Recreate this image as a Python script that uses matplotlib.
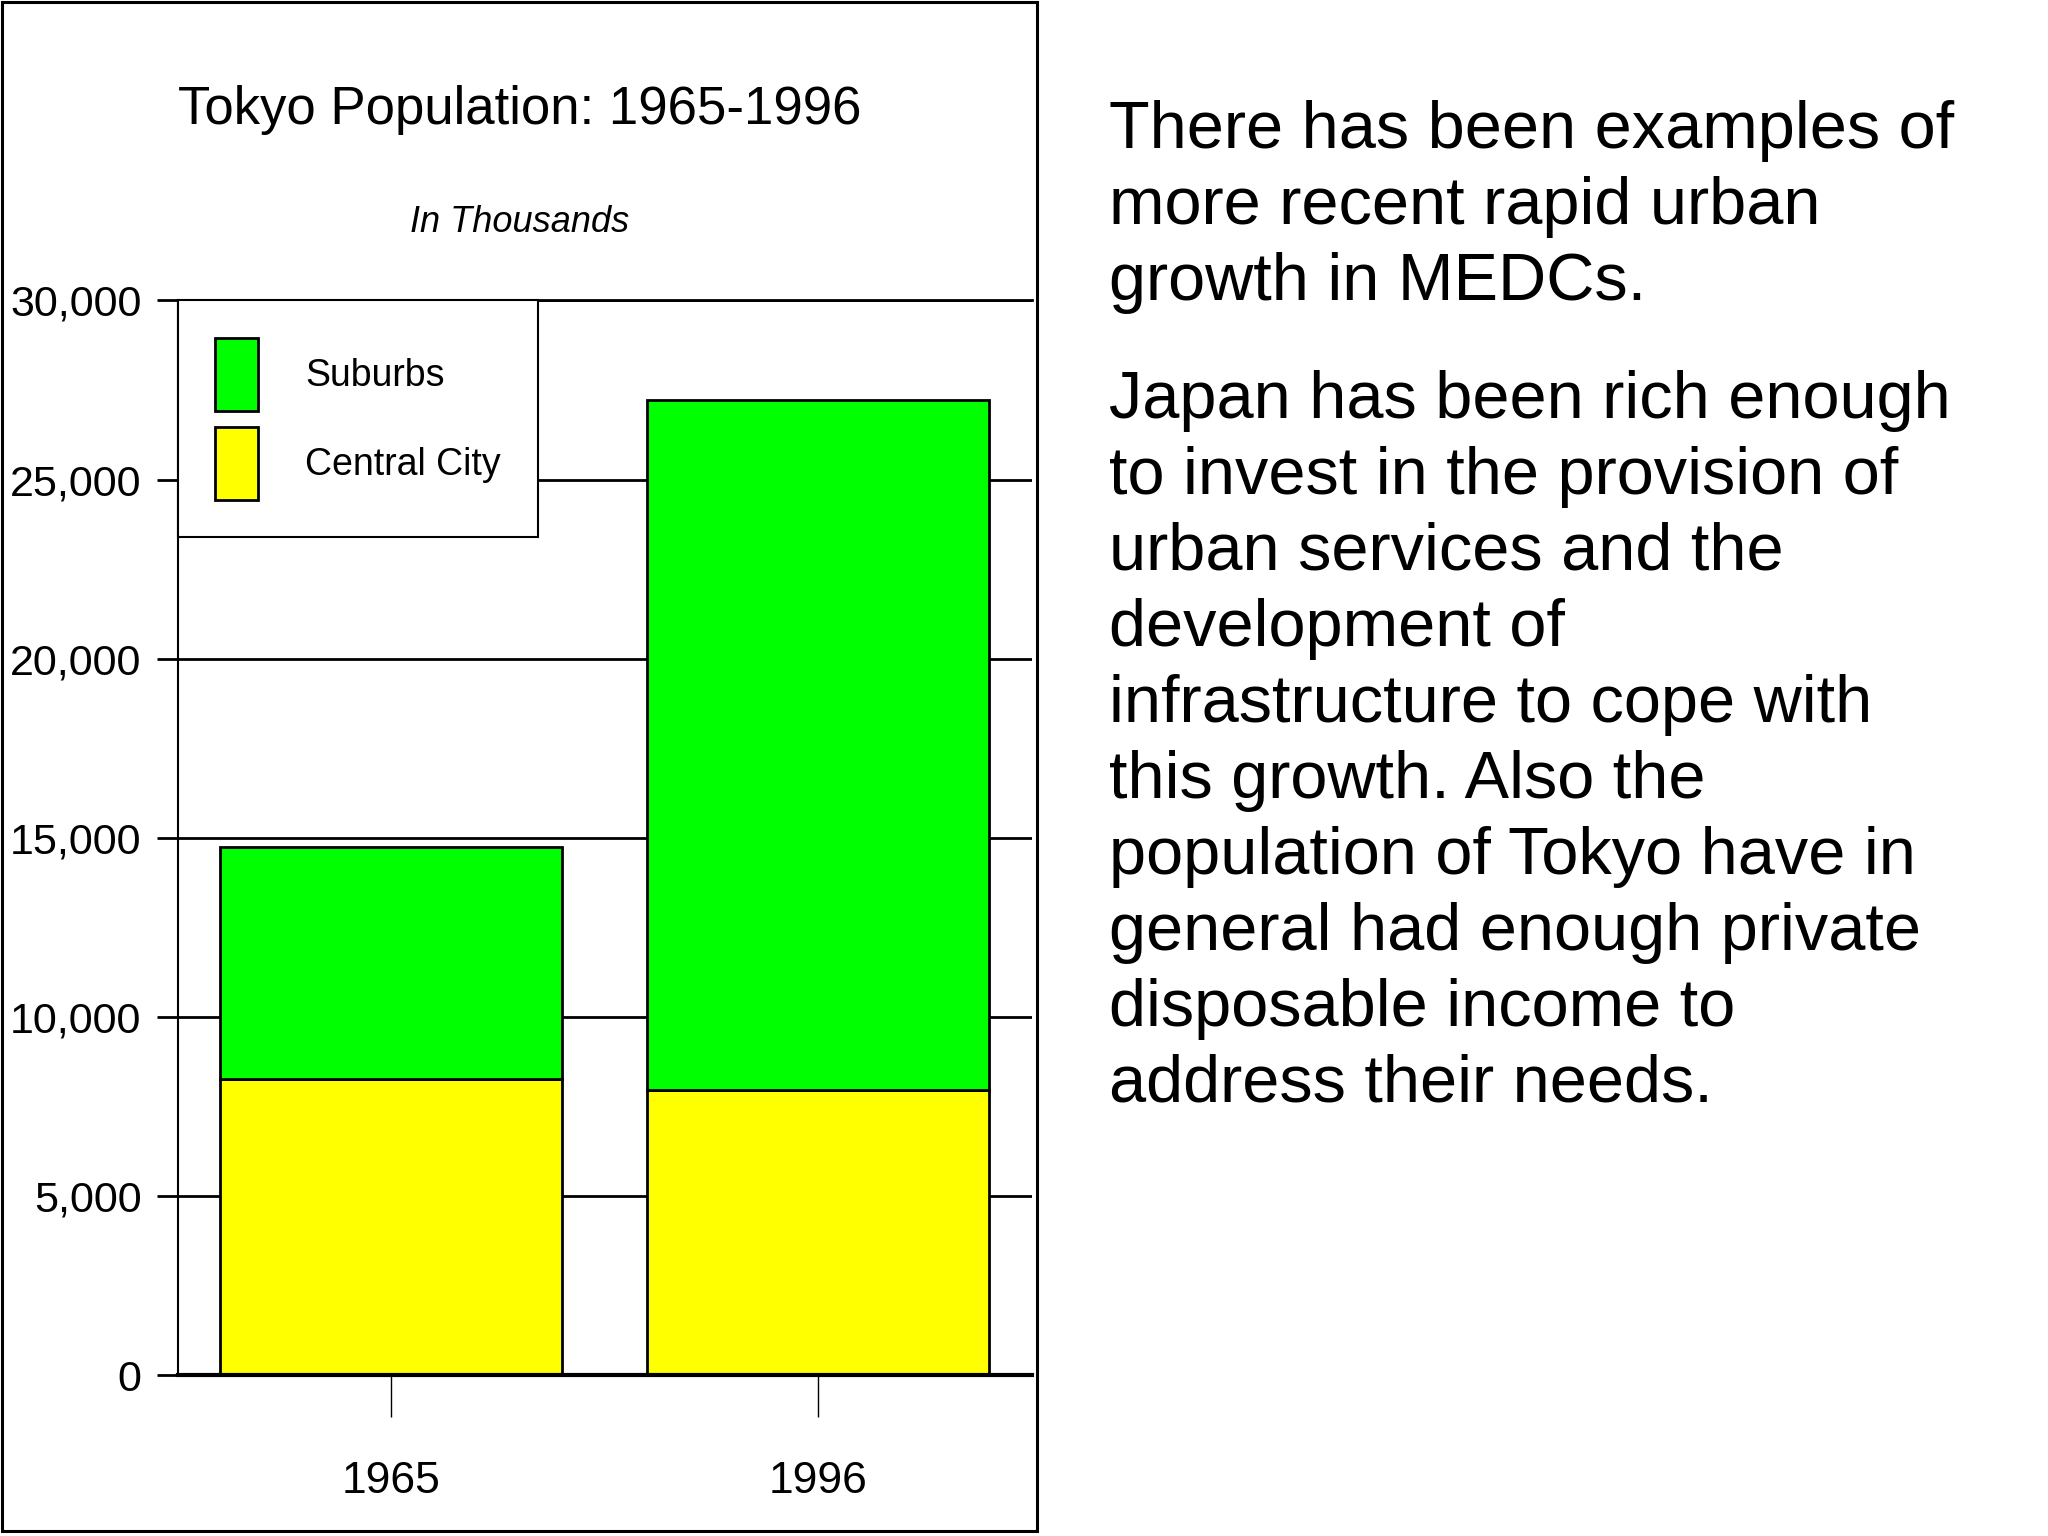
import matplotlib.pyplot as plt
from matplotlib.patches import Patch, Rectangle

# Tokyo population, in thousands
years = ['1965', '1996']
central_city = [8270, 7970]
suburbs = [6460, 19260]
yticks = [0, 5000, 10000, 15000, 20000, 25000, 30000]
ytick_labels = ['0', '5,000', '10,000', '15,000', '20,000', '25,000', '30,000']

para1 = ['There has been examples of',
         'more recent rapid urban',
         'growth in MEDCs.']
para2 = ['Japan has been rich enough',
         'to invest in the provision of',
         'urban services and the',
         'development of',
         'infrastructure to cope with',
         'this growth. Also the',
         'population of Tokyo have in',
         'general had enough private',
         'disposable income to',
         'address their needs.']

font = 'Liberation Sans'
W, H = 2048, 1536

fig = plt.figure(figsize=(20.48, 15.36), dpi=100)
ax = fig.add_axes([0.0867, 0.1047, 0.417, 0.6997])

x = range(len(years))
ax.bar(x, central_city, width=0.8, color='#ffff00', edgecolor='black', linewidth=2)
ax.bar(x, suburbs, width=0.8, bottom=central_city, color='#00ff00',
       edgecolor='black', linewidth=2)

ax.set_xlim(-0.5, 1.5)
ax.set_ylim(0, 30000)
ax.set_yticks(yticks, ytick_labels, fontfamily=font, fontsize=31)
ax.set_xticks(list(x), years, fontfamily=font, fontsize=32)
ax.yaxis.grid(True, color='black', linewidth=2)
ax.set_axisbelow(True)
ax.spines['right'].set_visible(False)
ax.spines['top'].set_linewidth(2)
ax.spines['left'].set_linewidth(1.5)
ax.spines['bottom'].set_linewidth(3)
ax.tick_params(axis='y', length=15, width=2, pad=11)
ax.tick_params(axis='x', length=30, width=1, pad=32)

handles = [Patch(facecolor='#00ff00', edgecolor='black', linewidth=2),
           Patch(facecolor='#ffff00', edgecolor='black', linewidth=2)]
leg = ax.legend(handles, ['Suburbs', 'Central City'], loc='upper left',
                bbox_to_anchor=(0, 1), borderaxespad=0, fancybox=False,
                edgecolor='black', framealpha=1,
                prop={'family': font, 'size': 27},
                handlelength=1.15, handleheight=2.62, handletextpad=1.25,
                labelspacing=0.42, borderpad=1.0)
leg.get_frame().set_linewidth(1.5)

fig.text(0.2538, 1 - 124 / H, 'Tokyo Population: 1965-1996',
         ha='center', va='baseline', fontfamily=font, fontsize=38)
fig.text(0.2538, 1 - 232 / H, 'In Thousands', ha='center', va='baseline',
         fontfamily=font, fontsize=26, style='italic')

# outer frame round the chart
fig.patches.append(Rectangle((1.5 / W, 5 / H), 1035.5 / W, 1529.5 / H,
                             transform=fig.transFigure, fill=False,
                             edgecolor='black', linewidth=2.2))

# text on the right
y = 147.6
for line in para1:
    fig.text(1109 / W, 1 - y / H, line, va='baseline',
             fontfamily=font, fontsize=48)
    y += 76
y = 418
for line in para2:
    fig.text(1109 / W, 1 - y / H, line, va='baseline',
             fontfamily=font, fontsize=48)
    y += 76

fig.savefig('out.png', dpi=100)
